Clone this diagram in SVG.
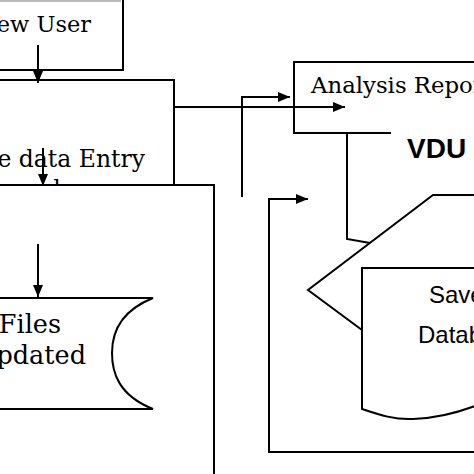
<svg xmlns="http://www.w3.org/2000/svg" width="474" height="474" viewBox="0 0 474 474">
<style>
.s{fill:none;stroke:#000;stroke-width:2}
.w{fill:#fff;stroke:#000;stroke-width:2}
.serif{font-family:"DejaVu Serif","Liberation Serif",serif;font-size:22.5px;fill:#000}
.de{font-size:23.5px}
.fu{font-size:25.5px}
.ar{font-size:22.8px}
.sans{font-family:"Liberation Sans",Arial,sans-serif;font-size:24px;fill:#000}
.vdu{font-family:"Liberation Sans",Arial,sans-serif;font-weight:bold;font-size:28px;fill:#000}
</style>
<defs>
<marker id="ah" markerWidth="12" markerHeight="10" refX="12" refY="5" orient="auto" markerUnits="userSpaceOnUse"><path d="M0,0 L12,5 L0,10 z" fill="#000"/></marker>
</defs>
<rect width="474" height="474" fill="#fff"/>
<g id="new-user">
<line x1="0" y1="1" x2="121" y2="1" stroke="#bbb" stroke-width="2"/>
<polyline class="s" points="0,70 123,70 123,0"/>
<text class="serif" x="91" y="32" text-anchor="end">New User</text>
</g>
<g id="data-entry">
<polyline class="s" points="-5,80 174,80 174,186"/>
<text class="serif de" x="145" y="167" text-anchor="end">Source data Entry</text>
<text class="serif de" x="42" y="197" text-anchor="middle">mode</text>
</g>
<g id="files-box">
<polyline class="w" points="-5,185 214,185 214,480 -5,480"/>
</g>
<g id="files-updated">
<path class="w" d="M-5,298 L153,298 C118,312 112,335 112,353 C112,372 118,395 153,409 L-5,409"/>
<text class="serif fu" x="61" y="333" text-anchor="end">Files</text>
<text class="serif fu" x="86" y="364" text-anchor="end">Updated</text>
</g>
<g id="analysis-report">
<polyline class="s" points="480,62 294,62 294,133 391,133"/>
<text class="serif ar" x="311" y="93">Analysis Report</text>
</g>
<g id="vdu-label">
<text class="vdu" x="407" y="158">VDU</text>
</g>
<g id="vdu-display">
<polyline class="s" points="480,195 433,195 308,290 362,330"/>
</g>
<g id="save-database">
<path class="w" d="M480,268 L362,268 L362,409 C380,415 395,420 413,419 C440,418 460,412 480,404"/>
<text class="sans" x="429" y="303">Save</text>
<text class="sans" x="418" y="343">Database</text>
</g>
<g id="connectors">
<line class="s" x1="38" y1="45" x2="38" y2="83" marker-end="url(#ah)"/>
<line class="s" x1="43" y1="148" x2="43" y2="186" marker-end="url(#ah)"/>
<line class="s" x1="38" y1="244" x2="38" y2="297" marker-end="url(#ah)"/>
<line class="s" x1="174" y1="107" x2="345" y2="107" marker-end="url(#ah)"/>
<polyline class="s" points="242,197 242,97 290,97" marker-end="url(#ah)"/>
<polyline class="s" points="347,133 347,239 370,243"/>
<polyline class="s" points="480,452 269,452 269,199 308,199" marker-end="url(#ah)"/>
</g>
</svg>
